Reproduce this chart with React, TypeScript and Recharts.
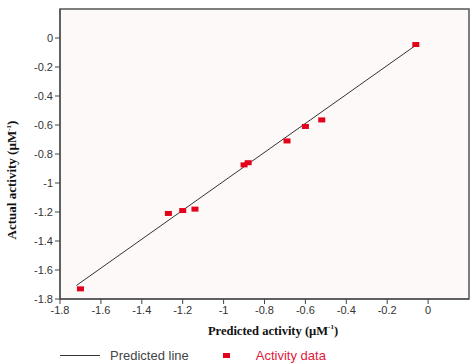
import {
  ComposedChart,
  ReferenceArea,
  Scatter,
  XAxis,
  YAxis,
} from 'recharts'

// observed activity vs. predicted activity (µM⁻¹)
const predicted = [-1.7, -1.27, -1.2, -1.14, -0.9, -0.88, -0.69, -0.6, -0.52, -0.06]
const actual = [-1.73, -1.21, -1.19, -1.18, -0.875, -0.86, -0.71, -0.61, -0.565, -0.045]

// fitted line end points
const lineX = [-1.72, -0.06]
const lineY = [-1.707, -0.05]

const ticks = [-1.8, -1.6, -1.4, -1.2, -1, -0.8, -0.6, -0.4, -0.2, 0]

const points = predicted.map((x, i) => ({ x, y: actual[i] }))
const fitLine = lineX.map((x, i) => ({ x, y: lineY[i] }))

const RED = '#e3001b'
const tickStyle = { fill: '#333', fontSize: 11, fontFamily: '"Liberation Sans", Arial, sans-serif' }

function SquareDot(props: any) {
  const { cx, cy } = props
  return <rect x={cx - 3.5} y={cy - 2.5} width={7} height={5} fill={RED} />
}

export default function App() {
  return (
    <div style={{ position: 'relative', width: 474, height: 363, background: '#fff' }}>
      <style>{`body{margin:0}`}</style>
      <ComposedChart
        width={474}
        height={363}
        margin={{ top: 9, right: 5, left: 0, bottom: 44 }}
      >
        <XAxis
          type="number"
          dataKey="x"
          domain={[-1.8, 0.2]}
          ticks={ticks}
          tick={tickStyle}
          tickSize={5}
          height={20}
          stroke="#444"
          allowDataOverflow
        />
        <YAxis
          type="number"
          dataKey="y"
          domain={[-1.8, 0.2]}
          ticks={ticks}
          tick={tickStyle}
          tickSize={5}
          width={60}
          stroke="#444"
          allowDataOverflow
        />
        <ReferenceArea
          x1={-1.8}
          x2={0.2}
          y1={-1.8}
          y2={0.2}
          fill="#fcf9f8"
          fillOpacity={1}
          stroke="#555"
          strokeWidth={1.5}
        />
        <Scatter
          data={fitLine}
          line={{ stroke: '#333', strokeWidth: 1 }}
          shape={() => null}
          isAnimationActive={false}
        />
        <Scatter data={points} shape={SquareDot} isAnimationActive={false} />
      </ComposedChart>

      <div
        style={{
          position: 'absolute',
          left: 12,
          top: 180,
          transform: 'translate(-50%, -50%) rotate(-90deg)',
          whiteSpace: 'nowrap',
          fontFamily: '"Liberation Serif", "Times New Roman", serif',
          fontWeight: 'bold',
          fontSize: 13,
          color: '#111',
        }}
      >
        Actual activity (µM<sup style={{ fontSize: 7 }}>-1</sup>)
      </div>
      <div
        style={{
          position: 'absolute',
          left: 273,
          top: 331,
          transform: 'translate(-50%, -50%)',
          whiteSpace: 'nowrap',
          fontFamily: '"Liberation Serif", "Times New Roman", serif',
          fontWeight: 'bold',
          fontSize: 12.5,
          color: '#111',
        }}
      >
        Predicted activity (µM<sup style={{ fontSize: 7 }}>-1</sup>)
      </div>

      <div
        style={{
          position: 'absolute',
          left: 60,
          top: 347,
          height: 16,
          display: 'flex',
          alignItems: 'center',
          fontFamily: '"Liberation Sans", Arial, sans-serif',
          fontSize: 13,
          whiteSpace: 'nowrap',
        }}
      >
        <span style={{ display: 'inline-block', width: 40, height: 0, borderTop: '1px solid #333' }} />
        <span style={{ marginLeft: 10, color: '#444' }}>Predicted line</span>
        <span
          style={{ display: 'inline-block', width: 7, height: 5, background: RED, marginLeft: 34 }}
        />
        <span style={{ marginLeft: 26, color: '#e0203a' }}>Activity data</span>
      </div>
    </div>
  )
}
